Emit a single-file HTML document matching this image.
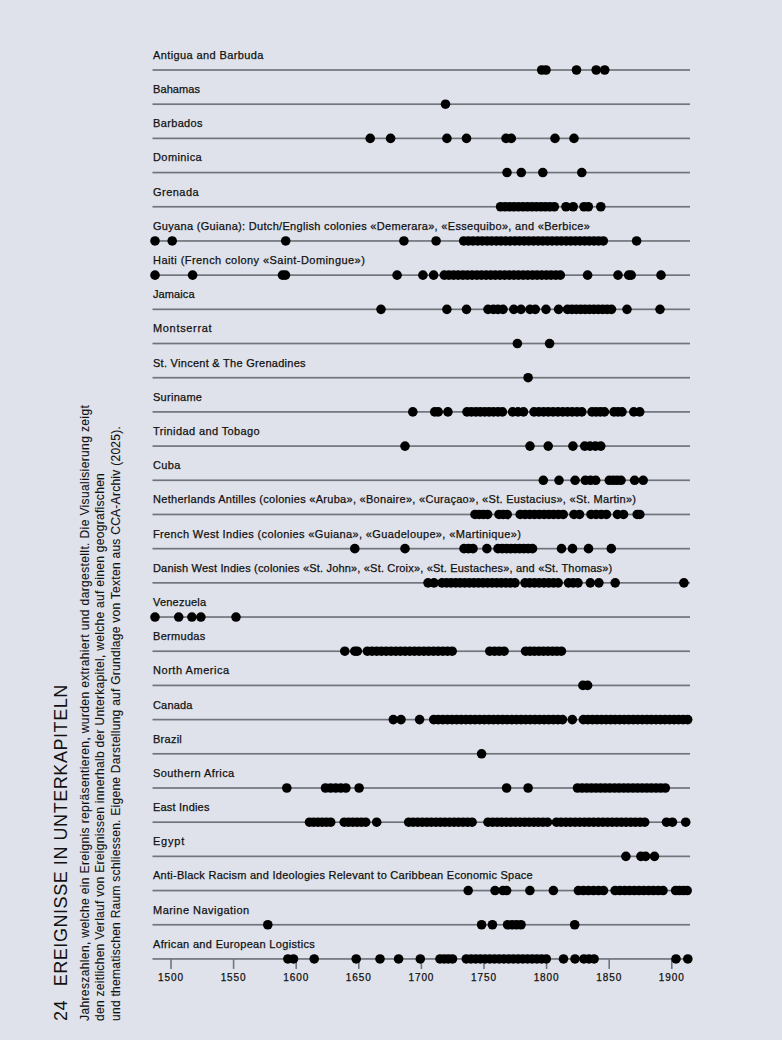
<!DOCTYPE html>
<html><head><meta charset="utf-8"><style>
html,body{margin:0;padding:0;}
body{width:782px;height:1040px;background:#dfe2ea;position:relative;overflow:hidden;font-family:"Liberation Sans",sans-serif;color:#111;-webkit-text-stroke:0.25px #111;}
svg{position:absolute;left:0;top:0;}
.lab{position:absolute;left:153px;font-size:11px;letter-spacing:0.28px;white-space:nowrap;line-height:0;}
.tick{position:absolute;top:978.44px;width:60px;text-align:center;font-size:10px;letter-spacing:0.9px;line-height:0;}
.rot{position:absolute;left:0;top:0;transform-origin:0 0;white-space:nowrap;line-height:0;-webkit-text-stroke:0.1px #111;}
</style></head><body>
<svg width="782" height="1040" viewBox="0 0 782 1040">
<rect x="671.00" y="958.94" width="1.6" height="10" fill="#70757c"/>
<rect x="608.40" y="958.94" width="1.6" height="10" fill="#70757c"/>
<rect x="545.80" y="958.94" width="1.6" height="10" fill="#70757c"/>
<rect x="483.20" y="958.94" width="1.6" height="10" fill="#70757c"/>
<rect x="420.60" y="958.94" width="1.6" height="10" fill="#70757c"/>
<rect x="358.00" y="958.94" width="1.6" height="10" fill="#70757c"/>
<rect x="295.40" y="958.94" width="1.6" height="10" fill="#70757c"/>
<rect x="232.80" y="958.94" width="1.6" height="10" fill="#70757c"/>
<rect x="170.20" y="958.94" width="1.6" height="10" fill="#70757c"/>
<rect x="152.5" y="69.15" width="537.5" height="1.7" fill="#70757c"/>
<circle cx="541.7" cy="70.00" r="4.8"/>
<circle cx="546.0" cy="70.00" r="4.8"/>
<circle cx="576.5" cy="70.00" r="4.8"/>
<circle cx="596.2" cy="70.00" r="4.8"/>
<circle cx="604.7" cy="70.00" r="4.8"/>
<rect x="152.5" y="103.34" width="537.5" height="1.7" fill="#70757c"/>
<circle cx="445.5" cy="104.19" r="4.8"/>
<rect x="152.5" y="137.53" width="537.5" height="1.7" fill="#70757c"/>
<circle cx="370.2" cy="138.38" r="4.8"/>
<circle cx="390.6" cy="138.38" r="4.8"/>
<circle cx="446.9" cy="138.38" r="4.8"/>
<circle cx="466.5" cy="138.38" r="4.8"/>
<circle cx="506.0" cy="138.38" r="4.8"/>
<circle cx="511.3" cy="138.38" r="4.8"/>
<circle cx="555.0" cy="138.38" r="4.8"/>
<circle cx="574.0" cy="138.38" r="4.8"/>
<rect x="152.5" y="171.72" width="537.5" height="1.7" fill="#70757c"/>
<circle cx="507.0" cy="172.57" r="4.8"/>
<circle cx="521.3" cy="172.57" r="4.8"/>
<circle cx="542.8" cy="172.57" r="4.8"/>
<circle cx="581.8" cy="172.57" r="4.8"/>
<rect x="152.5" y="205.91" width="537.5" height="1.7" fill="#70757c"/>
<circle cx="500.6" cy="206.76" r="4.8"/>
<circle cx="505.1" cy="206.76" r="4.8"/>
<circle cx="509.6" cy="206.76" r="4.8"/>
<circle cx="514.0" cy="206.76" r="4.8"/>
<circle cx="518.5" cy="206.76" r="4.8"/>
<circle cx="523.0" cy="206.76" r="4.8"/>
<circle cx="527.5" cy="206.76" r="4.8"/>
<circle cx="531.9" cy="206.76" r="4.8"/>
<circle cx="536.4" cy="206.76" r="4.8"/>
<circle cx="540.9" cy="206.76" r="4.8"/>
<circle cx="545.3" cy="206.76" r="4.8"/>
<circle cx="549.8" cy="206.76" r="4.8"/>
<circle cx="554.3" cy="206.76" r="4.8"/>
<circle cx="566.0" cy="206.76" r="4.8"/>
<circle cx="573.2" cy="206.76" r="4.8"/>
<circle cx="584.0" cy="206.76" r="4.8"/>
<circle cx="588.3" cy="206.76" r="4.8"/>
<circle cx="600.8" cy="206.76" r="4.8"/>
<rect x="152.5" y="240.10" width="537.5" height="1.7" fill="#70757c"/>
<circle cx="155.0" cy="240.95" r="4.8"/>
<circle cx="172.2" cy="240.95" r="4.8"/>
<circle cx="285.7" cy="240.95" r="4.8"/>
<circle cx="403.9" cy="240.95" r="4.8"/>
<circle cx="436.1" cy="240.95" r="4.8"/>
<circle cx="463.7" cy="240.95" r="4.8"/>
<circle cx="468.4" cy="240.95" r="4.8"/>
<circle cx="473.0" cy="240.95" r="4.8"/>
<circle cx="477.7" cy="240.95" r="4.8"/>
<circle cx="482.3" cy="240.95" r="4.8"/>
<circle cx="487.0" cy="240.95" r="4.8"/>
<circle cx="491.6" cy="240.95" r="4.8"/>
<circle cx="496.3" cy="240.95" r="4.8"/>
<circle cx="500.9" cy="240.95" r="4.8"/>
<circle cx="505.6" cy="240.95" r="4.8"/>
<circle cx="510.2" cy="240.95" r="4.8"/>
<circle cx="514.9" cy="240.95" r="4.8"/>
<circle cx="519.5" cy="240.95" r="4.8"/>
<circle cx="524.2" cy="240.95" r="4.8"/>
<circle cx="528.8" cy="240.95" r="4.8"/>
<circle cx="533.5" cy="240.95" r="4.8"/>
<circle cx="538.2" cy="240.95" r="4.8"/>
<circle cx="542.8" cy="240.95" r="4.8"/>
<circle cx="547.5" cy="240.95" r="4.8"/>
<circle cx="552.1" cy="240.95" r="4.8"/>
<circle cx="556.8" cy="240.95" r="4.8"/>
<circle cx="561.4" cy="240.95" r="4.8"/>
<circle cx="566.1" cy="240.95" r="4.8"/>
<circle cx="570.7" cy="240.95" r="4.8"/>
<circle cx="575.4" cy="240.95" r="4.8"/>
<circle cx="580.0" cy="240.95" r="4.8"/>
<circle cx="584.7" cy="240.95" r="4.8"/>
<circle cx="589.3" cy="240.95" r="4.8"/>
<circle cx="594.0" cy="240.95" r="4.8"/>
<circle cx="598.6" cy="240.95" r="4.8"/>
<circle cx="603.3" cy="240.95" r="4.8"/>
<circle cx="636.6" cy="240.95" r="4.8"/>
<rect x="152.5" y="274.29" width="537.5" height="1.7" fill="#70757c"/>
<circle cx="155.0" cy="275.14" r="4.8"/>
<circle cx="192.6" cy="275.14" r="4.8"/>
<circle cx="282.5" cy="275.14" r="4.8"/>
<circle cx="285.4" cy="275.14" r="4.8"/>
<circle cx="397.1" cy="275.14" r="4.8"/>
<circle cx="422.9" cy="275.14" r="4.8"/>
<circle cx="433.6" cy="275.14" r="4.8"/>
<circle cx="444.3" cy="275.14" r="4.8"/>
<circle cx="448.9" cy="275.14" r="4.8"/>
<circle cx="453.6" cy="275.14" r="4.8"/>
<circle cx="458.2" cy="275.14" r="4.8"/>
<circle cx="462.9" cy="275.14" r="4.8"/>
<circle cx="467.5" cy="275.14" r="4.8"/>
<circle cx="472.1" cy="275.14" r="4.8"/>
<circle cx="476.8" cy="275.14" r="4.8"/>
<circle cx="481.4" cy="275.14" r="4.8"/>
<circle cx="486.1" cy="275.14" r="4.8"/>
<circle cx="490.7" cy="275.14" r="4.8"/>
<circle cx="495.3" cy="275.14" r="4.8"/>
<circle cx="500.0" cy="275.14" r="4.8"/>
<circle cx="504.6" cy="275.14" r="4.8"/>
<circle cx="509.3" cy="275.14" r="4.8"/>
<circle cx="513.9" cy="275.14" r="4.8"/>
<circle cx="518.5" cy="275.14" r="4.8"/>
<circle cx="523.2" cy="275.14" r="4.8"/>
<circle cx="527.8" cy="275.14" r="4.8"/>
<circle cx="532.5" cy="275.14" r="4.8"/>
<circle cx="537.1" cy="275.14" r="4.8"/>
<circle cx="541.7" cy="275.14" r="4.8"/>
<circle cx="546.4" cy="275.14" r="4.8"/>
<circle cx="551.0" cy="275.14" r="4.8"/>
<circle cx="555.7" cy="275.14" r="4.8"/>
<circle cx="560.3" cy="275.14" r="4.8"/>
<circle cx="587.6" cy="275.14" r="4.8"/>
<circle cx="618.0" cy="275.14" r="4.8"/>
<circle cx="628.7" cy="275.14" r="4.8"/>
<circle cx="631.2" cy="275.14" r="4.8"/>
<circle cx="661.0" cy="275.14" r="4.8"/>
<rect x="152.5" y="308.48" width="537.5" height="1.7" fill="#70757c"/>
<circle cx="381.0" cy="309.33" r="4.8"/>
<circle cx="446.9" cy="309.33" r="4.8"/>
<circle cx="466.5" cy="309.33" r="4.8"/>
<circle cx="488.0" cy="309.33" r="4.8"/>
<circle cx="493.4" cy="309.33" r="4.8"/>
<circle cx="498.0" cy="309.33" r="4.8"/>
<circle cx="503.0" cy="309.33" r="4.8"/>
<circle cx="513.8" cy="309.33" r="4.8"/>
<circle cx="521.0" cy="309.33" r="4.8"/>
<circle cx="530.0" cy="309.33" r="4.8"/>
<circle cx="535.3" cy="309.33" r="4.8"/>
<circle cx="546.0" cy="309.33" r="4.8"/>
<circle cx="558.6" cy="309.33" r="4.8"/>
<circle cx="567.5" cy="309.33" r="4.8"/>
<circle cx="571.9" cy="309.33" r="4.8"/>
<circle cx="576.3" cy="309.33" r="4.8"/>
<circle cx="580.7" cy="309.33" r="4.8"/>
<circle cx="585.1" cy="309.33" r="4.8"/>
<circle cx="589.5" cy="309.33" r="4.8"/>
<circle cx="593.9" cy="309.33" r="4.8"/>
<circle cx="598.3" cy="309.33" r="4.8"/>
<circle cx="602.7" cy="309.33" r="4.8"/>
<circle cx="607.1" cy="309.33" r="4.8"/>
<circle cx="611.5" cy="309.33" r="4.8"/>
<circle cx="627.0" cy="309.33" r="4.8"/>
<circle cx="660.0" cy="309.33" r="4.8"/>
<rect x="152.5" y="342.67" width="537.5" height="1.7" fill="#70757c"/>
<circle cx="517.4" cy="343.52" r="4.8"/>
<circle cx="549.6" cy="343.52" r="4.8"/>
<rect x="152.5" y="376.86" width="537.5" height="1.7" fill="#70757c"/>
<circle cx="528.1" cy="377.71" r="4.8"/>
<rect x="152.5" y="411.05" width="537.5" height="1.7" fill="#70757c"/>
<circle cx="412.8" cy="411.90" r="4.8"/>
<circle cx="434.7" cy="411.90" r="4.8"/>
<circle cx="438.2" cy="411.90" r="4.8"/>
<circle cx="447.9" cy="411.90" r="4.8"/>
<circle cx="467.0" cy="411.90" r="4.8"/>
<circle cx="471.4" cy="411.90" r="4.8"/>
<circle cx="475.9" cy="411.90" r="4.8"/>
<circle cx="480.3" cy="411.90" r="4.8"/>
<circle cx="484.7" cy="411.90" r="4.8"/>
<circle cx="489.1" cy="411.90" r="4.8"/>
<circle cx="493.5" cy="411.90" r="4.8"/>
<circle cx="498.0" cy="411.90" r="4.8"/>
<circle cx="502.4" cy="411.90" r="4.8"/>
<circle cx="512.6" cy="411.90" r="4.8"/>
<circle cx="518.0" cy="411.90" r="4.8"/>
<circle cx="523.5" cy="411.90" r="4.8"/>
<circle cx="534.0" cy="411.90" r="4.8"/>
<circle cx="538.8" cy="411.90" r="4.8"/>
<circle cx="543.6" cy="411.90" r="4.8"/>
<circle cx="548.3" cy="411.90" r="4.8"/>
<circle cx="553.1" cy="411.90" r="4.8"/>
<circle cx="557.9" cy="411.90" r="4.8"/>
<circle cx="562.7" cy="411.90" r="4.8"/>
<circle cx="567.5" cy="411.90" r="4.8"/>
<circle cx="572.2" cy="411.90" r="4.8"/>
<circle cx="577.0" cy="411.90" r="4.8"/>
<circle cx="581.8" cy="411.90" r="4.8"/>
<circle cx="592.0" cy="411.90" r="4.8"/>
<circle cx="596.1" cy="411.90" r="4.8"/>
<circle cx="600.3" cy="411.90" r="4.8"/>
<circle cx="604.4" cy="411.90" r="4.8"/>
<circle cx="614.0" cy="411.90" r="4.8"/>
<circle cx="618.0" cy="411.90" r="4.8"/>
<circle cx="622.0" cy="411.90" r="4.8"/>
<circle cx="633.8" cy="411.90" r="4.8"/>
<circle cx="639.7" cy="411.90" r="4.8"/>
<rect x="152.5" y="445.24" width="537.5" height="1.7" fill="#70757c"/>
<circle cx="405.0" cy="446.09" r="4.8"/>
<circle cx="530.0" cy="446.09" r="4.8"/>
<circle cx="548.2" cy="446.09" r="4.8"/>
<circle cx="572.9" cy="446.09" r="4.8"/>
<circle cx="584.7" cy="446.09" r="4.8"/>
<circle cx="590.0" cy="446.09" r="4.8"/>
<circle cx="595.4" cy="446.09" r="4.8"/>
<circle cx="600.8" cy="446.09" r="4.8"/>
<rect x="152.5" y="479.43" width="537.5" height="1.7" fill="#70757c"/>
<circle cx="543.3" cy="480.28" r="4.8"/>
<circle cx="559.0" cy="480.28" r="4.8"/>
<circle cx="575.1" cy="480.28" r="4.8"/>
<circle cx="585.3" cy="480.28" r="4.8"/>
<circle cx="590.5" cy="480.28" r="4.8"/>
<circle cx="595.7" cy="480.28" r="4.8"/>
<circle cx="609.3" cy="480.28" r="4.8"/>
<circle cx="613.2" cy="480.28" r="4.8"/>
<circle cx="617.1" cy="480.28" r="4.8"/>
<circle cx="621.0" cy="480.28" r="4.8"/>
<circle cx="634.6" cy="480.28" r="4.8"/>
<circle cx="643.2" cy="480.28" r="4.8"/>
<rect x="152.5" y="513.62" width="537.5" height="1.7" fill="#70757c"/>
<circle cx="475.0" cy="514.47" r="4.8"/>
<circle cx="479.2" cy="514.47" r="4.8"/>
<circle cx="483.4" cy="514.47" r="4.8"/>
<circle cx="487.6" cy="514.47" r="4.8"/>
<circle cx="499.0" cy="514.47" r="4.8"/>
<circle cx="503.1" cy="514.47" r="4.8"/>
<circle cx="507.2" cy="514.47" r="4.8"/>
<circle cx="520.2" cy="514.47" r="4.8"/>
<circle cx="525.0" cy="514.47" r="4.8"/>
<circle cx="529.8" cy="514.47" r="4.8"/>
<circle cx="534.5" cy="514.47" r="4.8"/>
<circle cx="539.3" cy="514.47" r="4.8"/>
<circle cx="544.1" cy="514.47" r="4.8"/>
<circle cx="548.9" cy="514.47" r="4.8"/>
<circle cx="553.6" cy="514.47" r="4.8"/>
<circle cx="558.4" cy="514.47" r="4.8"/>
<circle cx="563.2" cy="514.47" r="4.8"/>
<circle cx="574.0" cy="514.47" r="4.8"/>
<circle cx="579.5" cy="514.47" r="4.8"/>
<circle cx="591.0" cy="514.47" r="4.8"/>
<circle cx="596.1" cy="514.47" r="4.8"/>
<circle cx="601.3" cy="514.47" r="4.8"/>
<circle cx="606.4" cy="514.47" r="4.8"/>
<circle cx="617.5" cy="514.47" r="4.8"/>
<circle cx="623.5" cy="514.47" r="4.8"/>
<circle cx="637.2" cy="514.47" r="4.8"/>
<circle cx="639.8" cy="514.47" r="4.8"/>
<rect x="152.5" y="547.81" width="537.5" height="1.7" fill="#70757c"/>
<circle cx="354.8" cy="548.66" r="4.8"/>
<circle cx="405.0" cy="548.66" r="4.8"/>
<circle cx="464.0" cy="548.66" r="4.8"/>
<circle cx="468.5" cy="548.66" r="4.8"/>
<circle cx="473.0" cy="548.66" r="4.8"/>
<circle cx="486.9" cy="548.66" r="4.8"/>
<circle cx="498.0" cy="548.66" r="4.8"/>
<circle cx="502.3" cy="548.66" r="4.8"/>
<circle cx="506.6" cy="548.66" r="4.8"/>
<circle cx="510.9" cy="548.66" r="4.8"/>
<circle cx="515.2" cy="548.66" r="4.8"/>
<circle cx="519.6" cy="548.66" r="4.8"/>
<circle cx="523.9" cy="548.66" r="4.8"/>
<circle cx="528.2" cy="548.66" r="4.8"/>
<circle cx="532.5" cy="548.66" r="4.8"/>
<circle cx="561.5" cy="548.66" r="4.8"/>
<circle cx="572.5" cy="548.66" r="4.8"/>
<circle cx="588.5" cy="548.66" r="4.8"/>
<circle cx="611.3" cy="548.66" r="4.8"/>
<rect x="152.5" y="582.00" width="537.5" height="1.7" fill="#70757c"/>
<circle cx="428.0" cy="582.85" r="4.8"/>
<circle cx="434.0" cy="582.85" r="4.8"/>
<circle cx="442.0" cy="582.85" r="4.8"/>
<circle cx="446.6" cy="582.85" r="4.8"/>
<circle cx="451.1" cy="582.85" r="4.8"/>
<circle cx="455.7" cy="582.85" r="4.8"/>
<circle cx="460.2" cy="582.85" r="4.8"/>
<circle cx="464.8" cy="582.85" r="4.8"/>
<circle cx="469.4" cy="582.85" r="4.8"/>
<circle cx="473.9" cy="582.85" r="4.8"/>
<circle cx="478.5" cy="582.85" r="4.8"/>
<circle cx="483.1" cy="582.85" r="4.8"/>
<circle cx="487.6" cy="582.85" r="4.8"/>
<circle cx="492.2" cy="582.85" r="4.8"/>
<circle cx="496.8" cy="582.85" r="4.8"/>
<circle cx="501.3" cy="582.85" r="4.8"/>
<circle cx="505.9" cy="582.85" r="4.8"/>
<circle cx="510.4" cy="582.85" r="4.8"/>
<circle cx="515.0" cy="582.85" r="4.8"/>
<circle cx="525.0" cy="582.85" r="4.8"/>
<circle cx="529.7" cy="582.85" r="4.8"/>
<circle cx="534.5" cy="582.85" r="4.8"/>
<circle cx="539.2" cy="582.85" r="4.8"/>
<circle cx="544.0" cy="582.85" r="4.8"/>
<circle cx="548.7" cy="582.85" r="4.8"/>
<circle cx="553.5" cy="582.85" r="4.8"/>
<circle cx="558.2" cy="582.85" r="4.8"/>
<circle cx="568.5" cy="582.85" r="4.8"/>
<circle cx="573.2" cy="582.85" r="4.8"/>
<circle cx="578.0" cy="582.85" r="4.8"/>
<circle cx="590.3" cy="582.85" r="4.8"/>
<circle cx="598.9" cy="582.85" r="4.8"/>
<circle cx="615.2" cy="582.85" r="4.8"/>
<circle cx="683.9" cy="582.85" r="4.8"/>
<rect x="152.5" y="616.19" width="537.5" height="1.7" fill="#70757c"/>
<circle cx="155.0" cy="617.04" r="4.8"/>
<circle cx="178.7" cy="617.04" r="4.8"/>
<circle cx="191.9" cy="617.04" r="4.8"/>
<circle cx="200.9" cy="617.04" r="4.8"/>
<circle cx="236.0" cy="617.04" r="4.8"/>
<rect x="152.5" y="650.38" width="537.5" height="1.7" fill="#70757c"/>
<circle cx="344.8" cy="651.23" r="4.8"/>
<circle cx="354.8" cy="651.23" r="4.8"/>
<circle cx="357.3" cy="651.23" r="4.8"/>
<circle cx="367.4" cy="651.23" r="4.8"/>
<circle cx="372.1" cy="651.23" r="4.8"/>
<circle cx="376.8" cy="651.23" r="4.8"/>
<circle cx="381.5" cy="651.23" r="4.8"/>
<circle cx="386.2" cy="651.23" r="4.8"/>
<circle cx="391.0" cy="651.23" r="4.8"/>
<circle cx="395.7" cy="651.23" r="4.8"/>
<circle cx="400.4" cy="651.23" r="4.8"/>
<circle cx="405.1" cy="651.23" r="4.8"/>
<circle cx="409.8" cy="651.23" r="4.8"/>
<circle cx="414.5" cy="651.23" r="4.8"/>
<circle cx="419.2" cy="651.23" r="4.8"/>
<circle cx="423.9" cy="651.23" r="4.8"/>
<circle cx="428.6" cy="651.23" r="4.8"/>
<circle cx="433.4" cy="651.23" r="4.8"/>
<circle cx="438.1" cy="651.23" r="4.8"/>
<circle cx="442.8" cy="651.23" r="4.8"/>
<circle cx="447.5" cy="651.23" r="4.8"/>
<circle cx="452.2" cy="651.23" r="4.8"/>
<circle cx="489.8" cy="651.23" r="4.8"/>
<circle cx="494.6" cy="651.23" r="4.8"/>
<circle cx="499.3" cy="651.23" r="4.8"/>
<circle cx="504.1" cy="651.23" r="4.8"/>
<circle cx="525.6" cy="651.23" r="4.8"/>
<circle cx="530.1" cy="651.23" r="4.8"/>
<circle cx="534.5" cy="651.23" r="4.8"/>
<circle cx="539.0" cy="651.23" r="4.8"/>
<circle cx="543.5" cy="651.23" r="4.8"/>
<circle cx="548.0" cy="651.23" r="4.8"/>
<circle cx="552.5" cy="651.23" r="4.8"/>
<circle cx="556.9" cy="651.23" r="4.8"/>
<circle cx="561.4" cy="651.23" r="4.8"/>
<rect x="152.5" y="684.57" width="537.5" height="1.7" fill="#70757c"/>
<circle cx="582.9" cy="685.42" r="4.8"/>
<circle cx="587.6" cy="685.42" r="4.8"/>
<rect x="152.5" y="718.76" width="537.5" height="1.7" fill="#70757c"/>
<circle cx="393.3" cy="719.61" r="4.8"/>
<circle cx="401.0" cy="719.61" r="4.8"/>
<circle cx="419.6" cy="719.61" r="4.8"/>
<circle cx="433.7" cy="719.61" r="4.8"/>
<circle cx="438.3" cy="719.61" r="4.8"/>
<circle cx="442.9" cy="719.61" r="4.8"/>
<circle cx="447.5" cy="719.61" r="4.8"/>
<circle cx="452.1" cy="719.61" r="4.8"/>
<circle cx="456.7" cy="719.61" r="4.8"/>
<circle cx="461.3" cy="719.61" r="4.8"/>
<circle cx="465.9" cy="719.61" r="4.8"/>
<circle cx="470.5" cy="719.61" r="4.8"/>
<circle cx="475.1" cy="719.61" r="4.8"/>
<circle cx="479.7" cy="719.61" r="4.8"/>
<circle cx="484.3" cy="719.61" r="4.8"/>
<circle cx="488.9" cy="719.61" r="4.8"/>
<circle cx="493.5" cy="719.61" r="4.8"/>
<circle cx="498.1" cy="719.61" r="4.8"/>
<circle cx="502.7" cy="719.61" r="4.8"/>
<circle cx="507.3" cy="719.61" r="4.8"/>
<circle cx="511.9" cy="719.61" r="4.8"/>
<circle cx="516.5" cy="719.61" r="4.8"/>
<circle cx="521.1" cy="719.61" r="4.8"/>
<circle cx="525.7" cy="719.61" r="4.8"/>
<circle cx="530.3" cy="719.61" r="4.8"/>
<circle cx="534.9" cy="719.61" r="4.8"/>
<circle cx="539.5" cy="719.61" r="4.8"/>
<circle cx="544.1" cy="719.61" r="4.8"/>
<circle cx="548.7" cy="719.61" r="4.8"/>
<circle cx="553.3" cy="719.61" r="4.8"/>
<circle cx="557.9" cy="719.61" r="4.8"/>
<circle cx="562.5" cy="719.61" r="4.8"/>
<circle cx="572.3" cy="719.61" r="4.8"/>
<circle cx="583.4" cy="719.61" r="4.8"/>
<circle cx="587.9" cy="719.61" r="4.8"/>
<circle cx="592.5" cy="719.61" r="4.8"/>
<circle cx="597.0" cy="719.61" r="4.8"/>
<circle cx="601.5" cy="719.61" r="4.8"/>
<circle cx="606.1" cy="719.61" r="4.8"/>
<circle cx="610.6" cy="719.61" r="4.8"/>
<circle cx="615.1" cy="719.61" r="4.8"/>
<circle cx="619.7" cy="719.61" r="4.8"/>
<circle cx="624.2" cy="719.61" r="4.8"/>
<circle cx="628.7" cy="719.61" r="4.8"/>
<circle cx="633.3" cy="719.61" r="4.8"/>
<circle cx="637.8" cy="719.61" r="4.8"/>
<circle cx="642.4" cy="719.61" r="4.8"/>
<circle cx="646.9" cy="719.61" r="4.8"/>
<circle cx="651.4" cy="719.61" r="4.8"/>
<circle cx="656.0" cy="719.61" r="4.8"/>
<circle cx="660.5" cy="719.61" r="4.8"/>
<circle cx="665.0" cy="719.61" r="4.8"/>
<circle cx="669.6" cy="719.61" r="4.8"/>
<circle cx="674.1" cy="719.61" r="4.8"/>
<circle cx="678.6" cy="719.61" r="4.8"/>
<circle cx="683.2" cy="719.61" r="4.8"/>
<circle cx="687.7" cy="719.61" r="4.8"/>
<rect x="152.5" y="752.95" width="537.5" height="1.7" fill="#70757c"/>
<circle cx="481.6" cy="753.80" r="4.8"/>
<rect x="152.5" y="787.14" width="537.5" height="1.7" fill="#70757c"/>
<circle cx="286.8" cy="787.99" r="4.8"/>
<circle cx="325.5" cy="787.99" r="4.8"/>
<circle cx="330.6" cy="787.99" r="4.8"/>
<circle cx="335.7" cy="787.99" r="4.8"/>
<circle cx="340.8" cy="787.99" r="4.8"/>
<circle cx="345.9" cy="787.99" r="4.8"/>
<circle cx="359.1" cy="787.99" r="4.8"/>
<circle cx="506.6" cy="787.99" r="4.8"/>
<circle cx="528.1" cy="787.99" r="4.8"/>
<circle cx="577.5" cy="787.99" r="4.8"/>
<circle cx="582.1" cy="787.99" r="4.8"/>
<circle cx="586.7" cy="787.99" r="4.8"/>
<circle cx="591.4" cy="787.99" r="4.8"/>
<circle cx="596.0" cy="787.99" r="4.8"/>
<circle cx="600.6" cy="787.99" r="4.8"/>
<circle cx="605.2" cy="787.99" r="4.8"/>
<circle cx="609.8" cy="787.99" r="4.8"/>
<circle cx="614.5" cy="787.99" r="4.8"/>
<circle cx="619.1" cy="787.99" r="4.8"/>
<circle cx="623.7" cy="787.99" r="4.8"/>
<circle cx="628.3" cy="787.99" r="4.8"/>
<circle cx="633.0" cy="787.99" r="4.8"/>
<circle cx="637.6" cy="787.99" r="4.8"/>
<circle cx="642.2" cy="787.99" r="4.8"/>
<circle cx="646.8" cy="787.99" r="4.8"/>
<circle cx="651.4" cy="787.99" r="4.8"/>
<circle cx="656.1" cy="787.99" r="4.8"/>
<circle cx="660.7" cy="787.99" r="4.8"/>
<circle cx="665.3" cy="787.99" r="4.8"/>
<rect x="152.5" y="821.33" width="537.5" height="1.7" fill="#70757c"/>
<circle cx="309.5" cy="822.18" r="4.8"/>
<circle cx="313.7" cy="822.18" r="4.8"/>
<circle cx="318.0" cy="822.18" r="4.8"/>
<circle cx="322.2" cy="822.18" r="4.8"/>
<circle cx="326.5" cy="822.18" r="4.8"/>
<circle cx="330.7" cy="822.18" r="4.8"/>
<circle cx="344.2" cy="822.18" r="4.8"/>
<circle cx="348.5" cy="822.18" r="4.8"/>
<circle cx="352.8" cy="822.18" r="4.8"/>
<circle cx="357.1" cy="822.18" r="4.8"/>
<circle cx="361.4" cy="822.18" r="4.8"/>
<circle cx="365.7" cy="822.18" r="4.8"/>
<circle cx="376.7" cy="822.18" r="4.8"/>
<circle cx="408.7" cy="822.18" r="4.8"/>
<circle cx="413.2" cy="822.18" r="4.8"/>
<circle cx="417.8" cy="822.18" r="4.8"/>
<circle cx="422.3" cy="822.18" r="4.8"/>
<circle cx="426.8" cy="822.18" r="4.8"/>
<circle cx="431.3" cy="822.18" r="4.8"/>
<circle cx="435.9" cy="822.18" r="4.8"/>
<circle cx="440.4" cy="822.18" r="4.8"/>
<circle cx="444.9" cy="822.18" r="4.8"/>
<circle cx="449.5" cy="822.18" r="4.8"/>
<circle cx="454.0" cy="822.18" r="4.8"/>
<circle cx="458.5" cy="822.18" r="4.8"/>
<circle cx="463.0" cy="822.18" r="4.8"/>
<circle cx="467.6" cy="822.18" r="4.8"/>
<circle cx="472.1" cy="822.18" r="4.8"/>
<circle cx="488.0" cy="822.18" r="4.8"/>
<circle cx="492.6" cy="822.18" r="4.8"/>
<circle cx="497.2" cy="822.18" r="4.8"/>
<circle cx="501.7" cy="822.18" r="4.8"/>
<circle cx="506.3" cy="822.18" r="4.8"/>
<circle cx="510.9" cy="822.18" r="4.8"/>
<circle cx="515.5" cy="822.18" r="4.8"/>
<circle cx="520.0" cy="822.18" r="4.8"/>
<circle cx="524.6" cy="822.18" r="4.8"/>
<circle cx="529.2" cy="822.18" r="4.8"/>
<circle cx="533.8" cy="822.18" r="4.8"/>
<circle cx="538.3" cy="822.18" r="4.8"/>
<circle cx="542.9" cy="822.18" r="4.8"/>
<circle cx="547.5" cy="822.18" r="4.8"/>
<circle cx="556.5" cy="822.18" r="4.8"/>
<circle cx="561.1" cy="822.18" r="4.8"/>
<circle cx="565.8" cy="822.18" r="4.8"/>
<circle cx="570.4" cy="822.18" r="4.8"/>
<circle cx="575.1" cy="822.18" r="4.8"/>
<circle cx="579.7" cy="822.18" r="4.8"/>
<circle cx="584.4" cy="822.18" r="4.8"/>
<circle cx="589.0" cy="822.18" r="4.8"/>
<circle cx="593.6" cy="822.18" r="4.8"/>
<circle cx="598.3" cy="822.18" r="4.8"/>
<circle cx="602.9" cy="822.18" r="4.8"/>
<circle cx="607.6" cy="822.18" r="4.8"/>
<circle cx="612.2" cy="822.18" r="4.8"/>
<circle cx="616.8" cy="822.18" r="4.8"/>
<circle cx="621.5" cy="822.18" r="4.8"/>
<circle cx="626.1" cy="822.18" r="4.8"/>
<circle cx="630.8" cy="822.18" r="4.8"/>
<circle cx="635.4" cy="822.18" r="4.8"/>
<circle cx="640.1" cy="822.18" r="4.8"/>
<circle cx="644.7" cy="822.18" r="4.8"/>
<circle cx="666.5" cy="822.18" r="4.8"/>
<circle cx="672.4" cy="822.18" r="4.8"/>
<circle cx="685.7" cy="822.18" r="4.8"/>
<rect x="152.5" y="855.52" width="537.5" height="1.7" fill="#70757c"/>
<circle cx="625.9" cy="856.37" r="4.8"/>
<circle cx="640.9" cy="856.37" r="4.8"/>
<circle cx="645.6" cy="856.37" r="4.8"/>
<circle cx="654.5" cy="856.37" r="4.8"/>
<rect x="152.5" y="889.71" width="537.5" height="1.7" fill="#70757c"/>
<circle cx="468.2" cy="890.56" r="4.8"/>
<circle cx="495.0" cy="890.56" r="4.8"/>
<circle cx="503.0" cy="890.56" r="4.8"/>
<circle cx="506.6" cy="890.56" r="4.8"/>
<circle cx="529.9" cy="890.56" r="4.8"/>
<circle cx="553.4" cy="890.56" r="4.8"/>
<circle cx="578.4" cy="890.56" r="4.8"/>
<circle cx="583.4" cy="890.56" r="4.8"/>
<circle cx="588.4" cy="890.56" r="4.8"/>
<circle cx="593.5" cy="890.56" r="4.8"/>
<circle cx="598.5" cy="890.56" r="4.8"/>
<circle cx="603.5" cy="890.56" r="4.8"/>
<circle cx="615.1" cy="890.56" r="4.8"/>
<circle cx="619.9" cy="890.56" r="4.8"/>
<circle cx="624.7" cy="890.56" r="4.8"/>
<circle cx="629.5" cy="890.56" r="4.8"/>
<circle cx="634.3" cy="890.56" r="4.8"/>
<circle cx="639.0" cy="890.56" r="4.8"/>
<circle cx="643.8" cy="890.56" r="4.8"/>
<circle cx="648.6" cy="890.56" r="4.8"/>
<circle cx="653.4" cy="890.56" r="4.8"/>
<circle cx="658.2" cy="890.56" r="4.8"/>
<circle cx="663.0" cy="890.56" r="4.8"/>
<circle cx="675.6" cy="890.56" r="4.8"/>
<circle cx="679.5" cy="890.56" r="4.8"/>
<circle cx="683.3" cy="890.56" r="4.8"/>
<circle cx="687.2" cy="890.56" r="4.8"/>
<rect x="152.5" y="923.90" width="537.5" height="1.7" fill="#70757c"/>
<circle cx="267.8" cy="924.75" r="4.8"/>
<circle cx="481.6" cy="924.75" r="4.8"/>
<circle cx="492.4" cy="924.75" r="4.8"/>
<circle cx="507.6" cy="924.75" r="4.8"/>
<circle cx="512.1" cy="924.75" r="4.8"/>
<circle cx="516.5" cy="924.75" r="4.8"/>
<circle cx="521.0" cy="924.75" r="4.8"/>
<circle cx="574.7" cy="924.75" r="4.8"/>
<rect x="152.5" y="958.09" width="537.5" height="1.7" fill="#70757c"/>
<circle cx="287.9" cy="958.94" r="4.8"/>
<circle cx="293.5" cy="958.94" r="4.8"/>
<circle cx="314.2" cy="958.94" r="4.8"/>
<circle cx="356.2" cy="958.94" r="4.8"/>
<circle cx="380.0" cy="958.94" r="4.8"/>
<circle cx="398.6" cy="958.94" r="4.8"/>
<circle cx="420.3" cy="958.94" r="4.8"/>
<circle cx="440.0" cy="958.94" r="4.8"/>
<circle cx="444.2" cy="958.94" r="4.8"/>
<circle cx="448.3" cy="958.94" r="4.8"/>
<circle cx="452.5" cy="958.94" r="4.8"/>
<circle cx="466.3" cy="958.94" r="4.8"/>
<circle cx="471.0" cy="958.94" r="4.8"/>
<circle cx="475.7" cy="958.94" r="4.8"/>
<circle cx="480.4" cy="958.94" r="4.8"/>
<circle cx="485.1" cy="958.94" r="4.8"/>
<circle cx="489.8" cy="958.94" r="4.8"/>
<circle cx="494.5" cy="958.94" r="4.8"/>
<circle cx="499.2" cy="958.94" r="4.8"/>
<circle cx="503.9" cy="958.94" r="4.8"/>
<circle cx="508.7" cy="958.94" r="4.8"/>
<circle cx="513.4" cy="958.94" r="4.8"/>
<circle cx="518.1" cy="958.94" r="4.8"/>
<circle cx="522.8" cy="958.94" r="4.8"/>
<circle cx="527.5" cy="958.94" r="4.8"/>
<circle cx="532.2" cy="958.94" r="4.8"/>
<circle cx="536.9" cy="958.94" r="4.8"/>
<circle cx="541.6" cy="958.94" r="4.8"/>
<circle cx="546.3" cy="958.94" r="4.8"/>
<circle cx="563.5" cy="958.94" r="4.8"/>
<circle cx="575.0" cy="958.94" r="4.8"/>
<circle cx="583.9" cy="958.94" r="4.8"/>
<circle cx="589.0" cy="958.94" r="4.8"/>
<circle cx="594.1" cy="958.94" r="4.8"/>
<circle cx="676.0" cy="958.94" r="4.8"/>
<circle cx="687.8" cy="958.94" r="4.8"/>
</svg>
<div class="lab" style="top:54.90px;letter-spacing:0.391px">Antigua and Barbuda</div>
<div class="lab" style="top:89.09px;letter-spacing:0.097px">Bahamas</div>
<div class="lab" style="top:123.28px;letter-spacing:0.351px">Barbados</div>
<div class="lab" style="top:157.47px;letter-spacing:0.409px">Dominica</div>
<div class="lab" style="top:191.66px;letter-spacing:0.48px">Grenada</div>
<div class="lab" style="top:225.85px;letter-spacing:0.312px">Guyana (Guiana): Dutch/English colonies «Demerara», «Essequibo», and «Berbice»</div>
<div class="lab" style="top:260.04px;letter-spacing:0.437px">Haiti (French colony «Saint-Domingue»)</div>
<div class="lab" style="top:294.23px;letter-spacing:0.097px">Jamaica</div>
<div class="lab" style="top:328.42px;letter-spacing:0.669px">Montserrat</div>
<div class="lab" style="top:362.61px;letter-spacing:0.276px">St. Vincent &amp; The Grenadines</div>
<div class="lab" style="top:396.80px;letter-spacing:0.266px">Suriname</div>
<div class="lab" style="top:430.99px;letter-spacing:0.391px">Trinidad and Tobago</div>
<div class="lab" style="top:465.18px;letter-spacing:0.347px">Cuba</div>
<div class="lab" style="top:499.37px;letter-spacing:0.288px">Netherlands Antilles (colonies «Aruba», «Bonaire», «Curaçao», «St. Eustacius», «St. Martin»)</div>
<div class="lab" style="top:533.56px;letter-spacing:0.366px">French West Indies (colonies «Guiana», «Guadeloupe», «Martinique»)</div>
<div class="lab" style="top:567.75px;letter-spacing:0.181px">Danish West Indies (colonies «St. John», «St. Croix», «St. Eustaches», and «St. Thomas»)</div>
<div class="lab" style="top:601.94px;letter-spacing:0.218px">Venezuela</div>
<div class="lab" style="top:636.13px;letter-spacing:0.309px">Bermudas</div>
<div class="lab" style="top:670.32px;letter-spacing:0.538px">North America</div>
<div class="lab" style="top:704.51px;letter-spacing:0.18px">Canada</div>
<div class="lab" style="top:738.70px;letter-spacing:0.26px">Brazil</div>
<div class="lab" style="top:772.89px;letter-spacing:0.43px">Southern Africa</div>
<div class="lab" style="top:807.08px;letter-spacing:0.2px">East Indies</div>
<div class="lab" style="top:841.27px;letter-spacing:0.78px">Egypt</div>
<div class="lab" style="top:875.46px;letter-spacing:0.261px">Anti-Black Racism and Ideologies Relevant to Caribbean Economic Space</div>
<div class="lab" style="top:909.65px;letter-spacing:0.474px">Marine Navigation</div>
<div class="lab" style="top:943.84px;letter-spacing:0.328px">African and European Logistics</div>
<div class="tick" style="left:141.00px">1500</div>
<div class="tick" style="left:203.60px">1550</div>
<div class="tick" style="left:266.20px">1600</div>
<div class="tick" style="left:328.80px">1650</div>
<div class="tick" style="left:391.40px">1700</div>
<div class="tick" style="left:454.00px">1750</div>
<div class="tick" style="left:516.60px">1800</div>
<div class="tick" style="left:579.20px">1850</div>
<div class="tick" style="left:641.80px">1900</div>
<div class="rot" style="transform:translate(61.3px,1021px) rotate(-90deg);font-size:18px;letter-spacing:0.56px;-webkit-text-stroke:0;">24<span style="display:inline-block;width:13.5px"></span>EREIGNISSE IN UNTERKAPITELN</div>
<div class="rot" style="transform:translate(85px,1021px) rotate(-90deg);font-size:12px;letter-spacing:0.38px;">Jahreszahlen, welche ein Ereignis repräsentieren, wurden extrahiert und dargestellt. Die Visualisierung zeigt</div>
<div class="rot" style="transform:translate(100px,1021px) rotate(-90deg);font-size:12px;letter-spacing:0.30px;">den zeitlichen Verlauf von Ereignissen innerhalb der Unterkapitel, welche auf einen geografischen</div>
<div class="rot" style="transform:translate(116px,1021px) rotate(-90deg);font-size:12px;letter-spacing:0.27px;">und thematischen Raum schliessen. Eigene Darstellung auf Grundlage von Texten aus CCA-Archiv (2025).</div>
</body></html>
